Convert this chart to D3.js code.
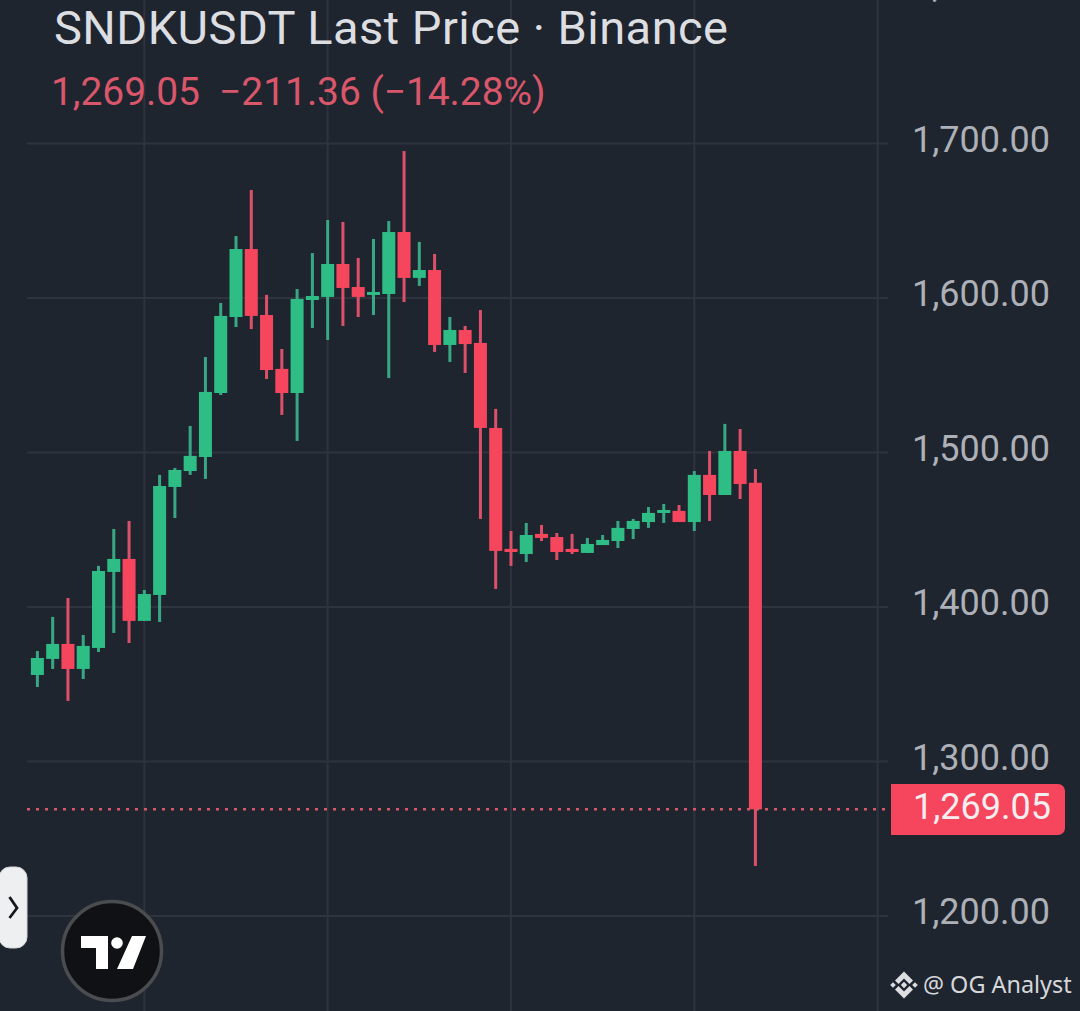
<!DOCTYPE html>
<html>
<head>
<meta charset="utf-8">
<script src="https://cdnjs.cloudflare.com/ajax/libs/d3/7.8.5/d3.min.js"></script>
<style>
  html, body { margin: 0; padding: 0; background: #1f252f; overflow: hidden; }
  svg { display: block; font-family: Roboto, sans-serif; }
</style>
</head>
<body>
<div id="chart"></div>
<script>
var opens = [1356.0,1366.4,1376.1,1359.9,1373.5,1422.7,1431.1,1391.0,1407.8,1477.7,1488.0,1497.1,1538.5,1587.7,1631.7,1589.0,
  1554.1,1538.5,1598.7,1600.7,1622.0,1607.1,1602.0,1602.6,1642.7,1613.0,1618.1,1569.6,1579.3,1570.9,1515.9,1437.6,
  1434.3,1447.3,1445.3,1437.6,1435.0,1440.1,1442.7,1450.5,1455.0,1460.9,1462.2,1455.0,1485.5,1472.5,1501.0,1480.4];
var highs = [1371.5,1393.6,1405.8,1381.9,1426.6,1450.5,1455.7,1411.0,1485.5,1490.0,1517.2,1561.8,1596.8,1640.1,1669.9,1602.0,
  1567.0,1605.8,1629.1,1650.5,1649.2,1625.9,1638.2,1649.8,1695.1,1636.3,1628.5,1587.7,1581.9,1592.2,1528.2,1449.2,
  1454.4,1453.1,1447.9,1447.3,1444.7,1446.6,1455.7,1457.0,1464.7,1466.7,1466.0,1488.0,1501.0,1518.5,1515.2,1489.3];
var lows = [1348.2,1359.9,1339.2,1353.4,1370.9,1383.2,1376.7,1391.0,1390.3,1457.6,1485.5,1482.9,1537.2,1581.2,1579.9,1547.6,
  1524.3,1507.5,1580.6,1572.8,1581.9,1587.7,1589.0,1548.2,1597.4,1607.8,1565.1,1558.6,1551.5,1457.0,1411.7,1426.6,
  1429.1,1442.7,1430.4,1434.3,1435.0,1440.1,1438.2,1444.0,1451.2,1454.4,1455.0,1449.2,1455.7,1472.5,1469.9,1232.4];
var closes = [1367.0,1376.1,1359.9,1374.8,1423.3,1431.1,1391.0,1408.4,1478.3,1488.7,1497.8,1539.2,1588.4,1631.7,1588.4,1553.4,
  1538.5,1599.4,1601.3,1622.0,1606.5,1600.7,1603.9,1642.7,1613.0,1618.1,1569.6,1579.3,1570.2,1515.9,1436.3,1435.6,
  1446.6,1444.7,1435.6,1435.6,1440.8,1443.4,1451.2,1455.7,1460.9,1462.8,1455.0,1485.5,1472.5,1501.0,1479.6,1269.05];

var priceTicks = [1200, 1300, 1400, 1500, 1600, 1700, 1800];
var timeGrid = [7, 19, 31, 43, 55];
var lastPrice = 1269.05;

var title = "SNDKUSDT Last Price · Binance";
var subtitle = "1,269.05  −211.36 (−14.28%)";
var credit = "@ OG Analyst";

var width = 1080, height = 1011;
var green = "#2ebd85", red = "#f6465d";
var wickGreen = "#38a884", wickRed = "#dc5069";
var gridColor = "#2e333d";

var x = d3.scaleLinear().domain([0, 47]).range([37.4, 755.4]);
var y = d3.scaleLinear().domain([1200, 1700]).range([916, 143.5]);
var bodyWidth = 13, wickWidth = 3;
var plotLeft = 27, plotRight = 888;

var svg = d3.select("#chart").append("svg")
  .attr("width", width)
  .attr("height", height);

svg.append("rect").attr("width", width).attr("height", height).attr("fill", "#1f252f");

// grid
svg.append("g").selectAll("line").data(timeGrid).join("line")
  .attr("x1", function (d) { return x(d); })
  .attr("x2", function (d) { return x(d); })
  .attr("y1", 0)
  .attr("y2", height)
  .attr("stroke", gridColor)
  .attr("stroke-width", 2);

svg.append("g").selectAll("line").data(priceTicks).join("line")
  .attr("x1", plotLeft)
  .attr("x2", plotRight)
  .attr("y1", function (d) { return y(d); })
  .attr("y2", function (d) { return y(d); })
  .attr("stroke", gridColor)
  .attr("stroke-width", 2);

// candles
var candles = svg.append("g").selectAll("g").data(d3.range(opens.length)).join("g");

candles.append("rect")
  .attr("x", function (i) { return x(i) - wickWidth / 2; })
  .attr("width", wickWidth)
  .attr("y", function (i) { return y(highs[i]); })
  .attr("height", function (i) { return y(lows[i]) - y(highs[i]); })
  .attr("fill", function (i) { return closes[i] >= opens[i] ? wickGreen : wickRed; });

candles.append("rect")
  .attr("x", function (i) { return x(i) - bodyWidth / 2; })
  .attr("width", bodyWidth)
  .attr("y", function (i) { return y(Math.max(opens[i], closes[i])); })
  .attr("height", function (i) { return Math.max(3, Math.abs(y(opens[i]) - y(closes[i]))); })
  .attr("fill", function (i) { return closes[i] >= opens[i] ? green : red; });

// last price line
svg.append("line")
  .attr("x1", plotLeft)
  .attr("x2", plotRight)
  .attr("y1", y(lastPrice))
  .attr("y2", y(lastPrice))
  .attr("stroke", "#d9566b")
  .attr("stroke-width", 2.4)
  .attr("stroke-dasharray", "3 6");

// price axis
var yAxis = d3.axisRight(y)
  .tickValues(priceTicks)
  .tickSize(0)
  .tickPadding(24)
  .tickFormat(d3.format(",.2f"));

var axisG = svg.append("g")
  .attr("transform", "translate(" + plotRight + ",0)")
  .call(yAxis);
axisG.select(".domain").remove();
axisG.selectAll("text")
  .attr("font-family", "Roboto, sans-serif")
  .attr("font-size", 36)
  .attr("dy", "0.21em")
  .attr("fill", "#adb0b7");

// last price label
svg.append("path")
  .attr("d", "M891,784H1058a7,7 0 0 1 7,7V828a7,7 0 0 1 -7,7H891Z")
  .attr("fill", red);
svg.append("text")
  .attr("x", 913)
  .attr("y", y(lastPrice) + 9.5)
  .attr("font-size", 36)
  .attr("fill", "#f4eef0")
  .text(d3.format(",.2f")(lastPrice));

// header
svg.append("text")
  .attr("x", 54)
  .attr("y", 43.5)
  .attr("font-size", 47)
  .attr("letter-spacing", 0.46)
  .attr("fill", "#dcdee2")
  .text(title);
svg.append("text")
  .attr("x", 51)
  .attr("y", 105)
  .attr("font-size", 39)
  .attr("letter-spacing", -0.07)
  .attr("fill", "#d9566b")
  .style("white-space", "pre")
  .text(subtitle);

// side toggle
svg.append("rect")
  .attr("x", -1).attr("y", 867)
  .attr("width", 28).attr("height", 81)
  .attr("rx", 11)
  .attr("fill", "#eeeff1")
  .attr("stroke", "#d4d5d8")
  .attr("stroke-width", 1);
svg.append("path")
  .attr("d", "M9.5,897L17,908L9.5,918")
  .attr("fill", "none")
  .attr("stroke", "#16181d")
  .attr("stroke-width", 2.8);

// logo
var logo = svg.append("g").attr("transform", "translate(112,951)");
logo.append("circle").attr("r", 49.5).attr("fill", "#101114").attr("stroke", "#4a4c50").attr("stroke-width", 3.5);
logo.append("path")
  .attr("d", "M-31,-15H-4V18H-16V-3H-31ZM20,-15H34L21,18H5Z")
  .attr("fill", "#ffffff");
logo.append("circle").attr("cx", 5).attr("cy", -8).attr("r", 5.8).attr("fill", "#ffffff");

// credit
var badge = svg.append("g").attr("transform", "translate(904,985)").attr("fill", "#dcdee2");
badge.append("path").attr("d", "M0,-13.5L9,-4.5L5.5,-1L0,-6.5L-5.5,-1L-9,-4.5Z");
badge.append("path").attr("d", "M0,13.5L9,4.5L5.5,1L0,6.5L-5.5,1L-9,4.5Z");
badge.append("path").attr("d", "M0,-3.2L3.2,0L0,3.2L-3.2,0Z");
badge.append("path").attr("d", "M-11,-2.8L-8.2,0L-11,2.8L-13.8,0Z");
badge.append("path").attr("d", "M11,-2.8L13.8,0L11,2.8L8.2,0Z");
svg.append("text")
  .attr("x", 923)
  .attr("y", 993)
  .attr("font-family", "'Noto Sans', sans-serif")
  .attr("font-size", 23.4)
  .attr("fill", "#d5d7db")
  .text(credit);
</script>
</body>
</html>
